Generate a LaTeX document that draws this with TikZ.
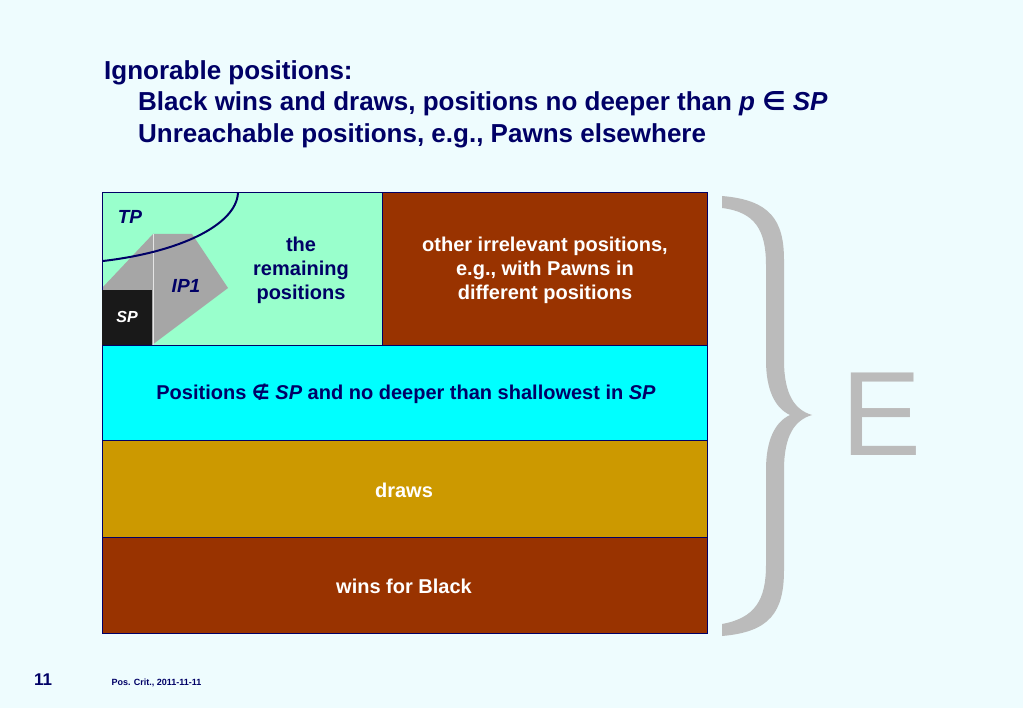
\documentclass[tikz,border=0pt]{standalone}
\usepackage{fontspec}
\setmainfont{Liberation Sans}
\newfontfamily\dejavu{DejaVu Sans}
\definecolor{bg}{HTML}{EEFCFE}
\definecolor{navy}{HTML}{000066}
\definecolor{mint}{HTML}{99FFCC}
\definecolor{rust}{HTML}{993300}
\definecolor{gold}{HTML}{CC9900}
\definecolor{cyanb}{HTML}{00FFFF}
\definecolor{braceg}{HTML}{BBBBBB}
\begin{document}
\begin{tikzpicture}[x=1pt,y=-1pt,
  band/.style={draw=navy,line width=0.8pt},
  lbl/.style={font=\bfseries\fontsize{20}{24}\selectfont,align=center},
  title/.style={anchor=base west,font=\bfseries\fontsize{26}{30}\selectfont,text=navy,inner sep=0}]
\fill[bg] (0,0) rectangle (1023,708);
\useasboundingbox (0,0) rectangle (1023,708);
\node[title] (t1) at (104,80) {Ignorable positions:};
\node[title] (t2) at (138,111) {Black wins and draws, positions no deeper than \textit{p} {\dejavu ∈} \textit{SP}};
\node[title] (t3) at (138,143) {Unreachable positions, e.g., Pawns elsewhere};
% boxes
\path[band,fill=mint] (102,192) rectangle (382,345);
\path[band,fill=rust] (382,192) rectangle (707,345);
\fill[gray!70] (153,234) -- (192,234) -- (228,288) -- (152,345) -- (103,345) -- (103,287) -- cycle;
\draw[white!80!gray,line width=0.4pt] (153,234) -- (153,345);
\fill[black!90] (102,290) rectangle (152,345);
\draw[navy,line width=2pt] (238,193) .. controls (236,225) and (180,252) .. (103,261);
\path[band,fill=cyanb] (102,345) rectangle (707,440);
\path[band,fill=gold] (102,440) rectangle (707,537);
\path[band,fill=rust] (102,537) rectangle (707,633);
\node[lbl,text=navy] (rem) at (301,270) {the\\remaining\\positions};
\node[lbl,text=white] (oth) at (545,270) {other irrelevant positions,\\e.g., with Pawns in\\different positions};
\node[lbl,text=navy] (cy) at (406,394) {Positions {\dejavu ∉} \textit{SP} and no deeper than shallowest in \textit{SP}};
\node[lbl,text=white] (dr) at (404,490) {draws};
\node[lbl,text=white] (wb) at (404,586) {wins for Black};
\node[font=\bfseries\itshape\fontsize{19}{22}\selectfont,text=navy] (tp) at (130,217) {TP};
\node[font=\bfseries\itshape\fontsize{19}{22}\selectfont,text=navy] (ip) at (186,286) {IP1};
\node[font=\bfseries\itshape\fontsize{16}{20}\selectfont,text=white] (sp) at (127,317) {SP};
% brace
\fill[braceg] (722,196) .. controls (770,200) and (784,220) .. (784,260)
  -- (784,360) .. controls (784,395) and (795,410) .. (812,415)
  .. controls (795,420) and (784,435) .. (784,470)
  -- (784,570) .. controls (784,612) and (770,632) .. (722,636)
  -- (722,624) .. controls (755,618) and (766,600) .. (766,565)
  -- (766,470) .. controls (766,440) and (775,422) .. (790,415)
  .. controls (775,408) and (766,390) .. (766,360)
  -- (766,265) .. controls (766,230) and (755,212) .. (722,208) -- cycle;
\node[font=\fontsize{120}{120}\selectfont,text=braceg] (E) at (882,414) {E};
\node[font=\bfseries\fontsize{17}{20}\selectfont,text=navy] (n) at (43,680) {11};
\node[anchor=west,font=\bfseries\fontsize{9}{11}\selectfont,text=navy] (f) at (108,683) {Pos. Crit., 2011-11-11};
\end{tikzpicture}
\end{document}
